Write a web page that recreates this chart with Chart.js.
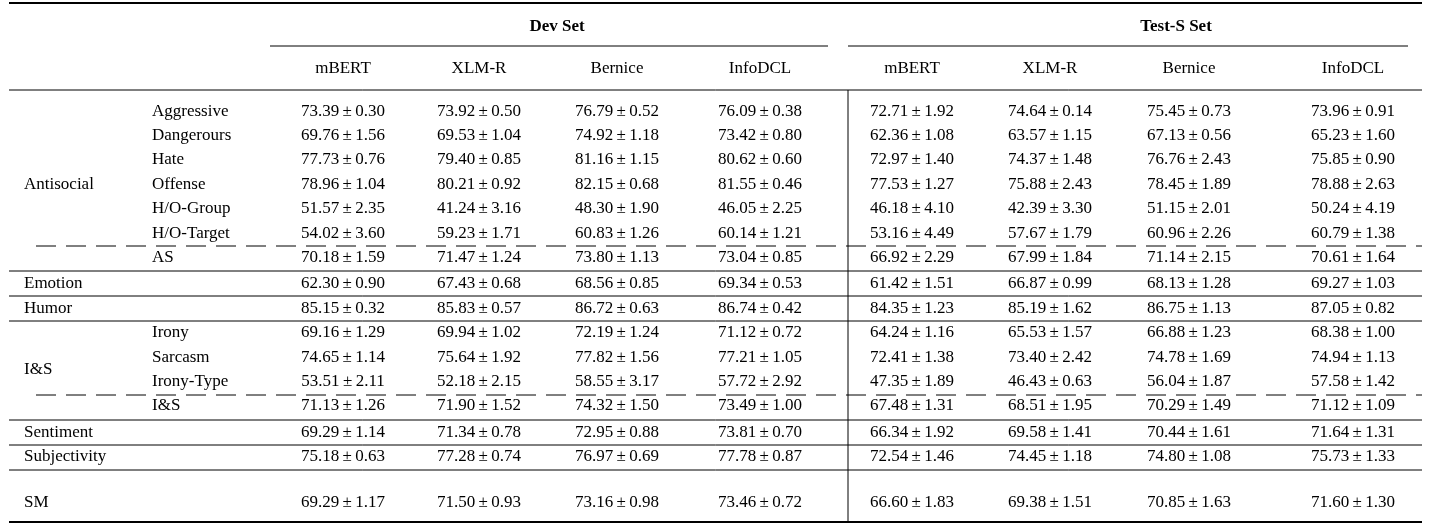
<!DOCTYPE html>
<html>
<head>
<meta charset="utf-8">
<script src="https://cdn.jsdelivr.net/npm/chart.js@4.4.0/dist/chart.umd.min.js"></script>
<style>
  html, body { margin: 0; padding: 0; background: #fff; }
</style>
</head>
<body>
<canvas id="tbl" width="1429" height="529"></canvas>
<script>
// ----------------- Datos -----------------

const models = ['mBERT', 'XLM-R', 'Bernice', 'InfoDCL'];
const sets = ['Dev Set', 'Test-S Set'];

const groupLabels = ['Antisocial', '', '', '', '', '', '', 'Emotion', 'Humor', 'I&S', '', '', '', 'Sentiment', 'Subjectivity', 'SM'];
const subLabels = ['Aggressive', 'Dangerours', 'Hate', 'Offense', 'H/O-Group', 'H/O-Target', 'AS', '', '', 'Irony', 'Sarcasm', 'Irony-Type', 'I&S', '', '', ''];

// Dev Set
const devMbertMean = [73.39, 69.76, 77.73, 78.96, 51.57, 54.02, 70.18, 62.30, 85.15, 69.16, 74.65, 53.51, 71.13, 69.29, 75.18, 69.29];
const devMbertStd  = [0.30, 1.56, 0.76, 1.04, 2.35, 3.60, 1.59, 0.90, 0.32, 1.29, 1.14, 2.11, 1.26, 1.14, 0.63, 1.17];
const devXlmrMean  = [73.92, 69.53, 79.40, 80.21, 41.24, 59.23, 71.47, 67.43, 85.83, 69.94, 75.64, 52.18, 71.90, 71.34, 77.28, 71.50];
const devXlmrStd   = [0.50, 1.04, 0.85, 0.92, 3.16, 1.71, 1.24, 0.68, 0.57, 1.02, 1.92, 2.15, 1.52, 0.78, 0.74, 0.93];
const devBerniceMean = [76.79, 74.92, 81.16, 82.15, 48.30, 60.83, 73.80, 68.56, 86.72, 72.19, 77.82, 58.55, 74.32, 72.95, 76.97, 73.16];
const devBerniceStd  = [0.52, 1.18, 1.15, 0.68, 1.90, 1.26, 1.13, 0.85, 0.63, 1.24, 1.56, 3.17, 1.50, 0.88, 0.69, 0.98];
const devInfoMean  = [76.09, 73.42, 80.62, 81.55, 46.05, 60.14, 73.04, 69.34, 86.74, 71.12, 77.21, 57.72, 73.49, 73.81, 77.78, 73.46];
const devInfoStd   = [0.38, 0.80, 0.60, 0.46, 2.25, 1.21, 0.85, 0.53, 0.42, 0.72, 1.05, 2.92, 1.00, 0.70, 0.87, 0.72];

// Test-S Set
const testMbertMean = [72.71, 62.36, 72.97, 77.53, 46.18, 53.16, 66.92, 61.42, 84.35, 64.24, 72.41, 47.35, 67.48, 66.34, 72.54, 66.60];
const testMbertStd  = [1.92, 1.08, 1.40, 1.27, 4.10, 4.49, 2.29, 1.51, 1.23, 1.16, 1.38, 1.89, 1.31, 1.92, 1.46, 1.83];
const testXlmrMean  = [74.64, 63.57, 74.37, 75.88, 42.39, 57.67, 67.99, 66.87, 85.19, 65.53, 73.40, 46.43, 68.51, 69.58, 74.45, 69.38];
const testXlmrStd   = [0.14, 1.15, 1.48, 2.43, 3.30, 1.79, 1.84, 0.99, 1.62, 1.57, 2.42, 0.63, 1.95, 1.41, 1.18, 1.51];
const testBerniceMean = [75.45, 67.13, 76.76, 78.45, 51.15, 60.96, 71.14, 68.13, 86.75, 66.88, 74.78, 56.04, 70.29, 70.44, 74.80, 70.85];
const testBerniceStd  = [0.73, 0.56, 2.43, 1.89, 2.01, 2.26, 2.15, 1.28, 1.13, 1.23, 1.69, 1.87, 1.49, 1.61, 1.08, 1.63];
const testInfoMean  = [73.96, 65.23, 75.85, 78.88, 50.24, 60.79, 70.61, 69.27, 87.05, 68.38, 74.94, 57.58, 71.12, 71.64, 75.73, 71.60];
const testInfoStd   = [0.91, 1.60, 0.90, 2.63, 4.19, 1.38, 1.64, 1.03, 0.82, 1.00, 1.13, 1.42, 1.09, 1.31, 1.33, 1.30];

const columnsMean = [devMbertMean, devXlmrMean, devBerniceMean, devInfoMean, testMbertMean, testXlmrMean, testBerniceMean, testInfoMean];
const columnsStd = [devMbertStd, devXlmrStd, devBerniceStd, devInfoStd, testMbertStd, testXlmrStd, testBerniceStd, testInfoStd];

// ----------------- Layout -----------------

const W = 1429, H = 529;
const rowY = [112, 136, 160, 185, 209, 234, 258, 284, 309, 333, 358, 382, 406, 433, 457, 503];
const groupLabelY = { 0: 185, 9: 370 };
const colX = [343, 479, 617, 760, 912, 1050, 1189, 1353];
const setX = [557, 1176];
const solidRules = [271, 296, 321, 420, 445, 470];
const dashedRules = [246, 395];
const FONT = '17px "Liberation Serif", "DejaVu Serif", serif';
const BOLD = 'bold 17px "Liberation Serif", "DejaVu Serif", serif';

const points = [];
columnsMean.forEach((col, c) => col.forEach((v, r) => points.push({ x: colX[c], y: rowY[r] })));

const tablePlugin = {
  id: 'tablePlugin',
  afterDraw(chart) {
    const ctx = chart.ctx;
    const sx = chart.scales.x, sy = chart.scales.y;
    const px = v => sx.getPixelForValue(v);
    const py = v => sy.getPixelForValue(v);

    ctx.save();
    ctx.fillStyle = '#000';
    ctx.strokeStyle = '#000';
    ctx.textBaseline = 'middle';

    const hline = (y, x0, x1, w, dash) => {
      ctx.beginPath();
      ctx.lineWidth = w;
      ctx.setLineDash(dash || []);
      ctx.moveTo(px(x0), py(y));
      ctx.lineTo(px(x1), py(y));
      ctx.stroke();
    };

    hline(3, 9, 1422, 2);
    hline(46, 270, 828, 1);
    hline(46, 848, 1408, 1);
    hline(90, 9, 1422, 1);
    solidRules.forEach(y => hline(y, 9, 1422, 1));
    dashedRules.forEach(y => hline(y, 36, 1422, 1, [20, 10]));
    hline(522, 9, 1422, 2);
    ctx.setLineDash([]);

    ctx.beginPath();
    ctx.lineWidth = 1;
    ctx.moveTo(px(848), py(90));
    ctx.lineTo(px(848), py(522));
    ctx.stroke();

    ctx.textAlign = 'center';
    ctx.font = BOLD;
    sets.forEach((s, i) => ctx.fillText(s, px(setX[i]), py(27)));
    ctx.font = FONT;
    colX.forEach((x, i) => ctx.fillText(models[i % 4], px(x), py(69)));

    ctx.textAlign = 'left';
    groupLabels.forEach((g, r) => {
      if (!g) return;
      const y = groupLabelY[r] !== undefined ? groupLabelY[r] : rowY[r];
      ctx.fillText(g, px(24), py(y));
    });
    subLabels.forEach((s, r) => {
      if (s) ctx.fillText(s, px(152), py(rowY[r]));
    });

    ctx.textAlign = 'center';
    columnsMean.forEach((col, c) => {
      col.forEach((m, r) => {
        const txt = m.toFixed(2) + '\u2009±\u2009' + columnsStd[c][r].toFixed(2);
        ctx.fillText(txt, px(colX[c]), py(rowY[r]));
      });
    });
    ctx.restore();
  }
};

new Chart(document.getElementById('tbl').getContext('2d'), {
  type: 'scatter',
  data: { datasets: [{ data: points, pointRadius: 0, pointHoverRadius: 0 }] },
  options: {
    responsive: false,
    animation: false,
    layout: { padding: 0 },
    plugins: { legend: { display: false }, tooltip: { enabled: false } },
    scales: {
      x: { type: 'linear', min: 0, max: W, display: false },
      y: { type: 'linear', min: 0, max: H, reverse: true, display: false }
    }
  },
  plugins: [tablePlugin]
});
</script>
</body>
</html>
